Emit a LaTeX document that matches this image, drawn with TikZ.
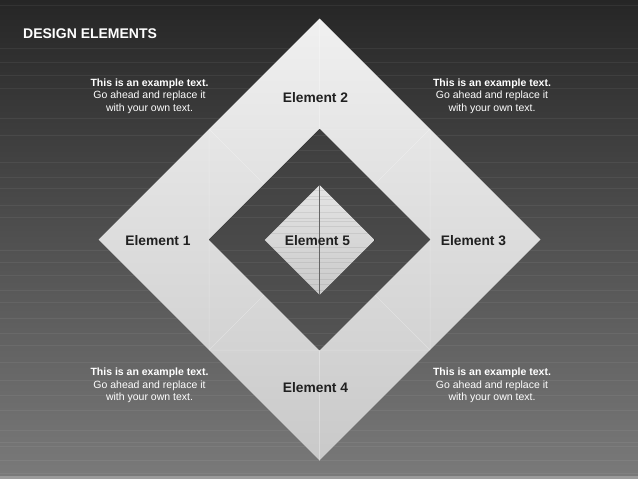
\documentclass[tikz,border=0pt]{standalone}
\usepackage{fontspec}
\setmainfont{Liberation Sans}
\usetikzlibrary{calc}
\definecolor{bgtop}{HTML}{262626}
\definecolor{bgbot}{HTML}{7A7A7A}
\definecolor{bandtop}{HTML}{F0F0F0}
\definecolor{bandbot}{HTML}{C9C9C9}
\definecolor{holetop}{HTML}{3E3E3E}
\definecolor{holebot}{HTML}{545454}
\definecolor{cortop}{HTML}{E4E4E4}
\definecolor{corbot}{HTML}{CACACA}
\definecolor{labelc}{HTML}{202020}
\tikzset{
  elabel/.style={font=\fontsize{13.8}{16}\selectfont\bfseries, text=labelc, inner sep=0pt},
  extext/.style={font=\fontsize{10.5}{12.6}\selectfont, text=white, align=center, inner sep=0pt},
  facet/.style={draw=white, line width=0.5pt, opacity=0.3},
  texture/.style={draw=white, line width=0.6pt, opacity=0.06}
}
\begin{document}
\begin{tikzpicture}[x=1pt,y=-1pt]
\useasboundingbox (0,0) rectangle (638,479);
% background
\fill[top color=bgtop, bottom color=bgbot] (0,0) rectangle (638,479);
\fill[white, opacity=0.25] (0,476) rectangle (638,479);
\foreach \yy in {5,48,62,75,88,118,135,162,177,188,205,217,250,262,275,290,302,318,333,345,362,380,395,410,430,442,446,460,473}
  \draw[texture] (0,\yy) -- (638,\yy);
% coordinates
\coordinate (c) at (319.5,239.5);
\coordinate (oT) at (319.5,18.5);
\coordinate (oL) at (98.5,239.5);
\coordinate (oR) at (540.5,239.5);
\coordinate (oB) at (319.5,460.5);
\coordinate (hT) at (319.5,129);
\coordinate (hL) at (209,239.5);
\coordinate (hR) at (430,239.5);
\coordinate (hB) at (319.5,350);
\coordinate (mUL) at (209,129);
\coordinate (mUR) at (430,129);
\coordinate (mLL) at (209,350);
\coordinate (mLR) at (430,350);
% outer band
\fill[top color=bandtop, bottom color=bandbot] (oT) -- (oR) -- (oB) -- (oL) -- cycle;
% facets
\path[facet] (oT) -- (hT) (oB) -- (hB);
\path[facet] (mUL) -- (hT) (mUL) -- (hL) (mUL) -- ($(hT)!0.5!(hL)$);
\path[facet] (mUR) -- (hT) (mUR) -- (hR) (mUR) -- ($(hT)!0.5!(hR)$);
\path[facet] (mLL) -- (hB) (mLL) -- (hL) (mLL) -- ($(hB)!0.5!(hL)$);
\path[facet] (mLR) -- (hB) (mLR) -- (hR) (mLR) -- ($(hB)!0.5!(hR)$);
% hole
\fill[top color=holetop, bottom color=holebot] (hT) -- (hR) -- (hB) -- (hL) -- cycle;
\begin{scope}
\clip (hT) -- (hR) -- (hB) -- (hL) -- cycle;
\foreach \yy in {135,150,162,177,188,205,217,250,262,275,290,302,318,333,345}
  \draw[texture] (200,\yy) -- (440,\yy);
\end{scope}
% core diamond
\coordinate (iT) at (319.5,185);
\coordinate (iL) at (264.5,240);
\coordinate (iR) at (374.5,240);
\coordinate (iB) at (319.5,295);
\fill[top color=cortop, bottom color=corbot] (iT) -- (iR) -- (iB) -- (iL) -- cycle;
\begin{scope}
\clip (iT) -- (iR) -- (iB) -- (iL) -- cycle;
\foreach \yy in {190,196,199,205,212,218,221,226,233,247,252,258,262,268,273,279,284,290}
  \draw[black, opacity=0.07, line width=0.5pt] (260,\yy) -- (380,\yy);
\end{scope}
\draw[gray!80!black, line width=0.5pt] (iT) -- (iB);
% title
\node[anchor=west, font=\fontsize{14}{16}\selectfont\bfseries, text=white, inner sep=0pt] (title) at (23,34) {DESIGN ELEMENTS};
% element labels
\node[elabel] (e2) at (315.5,98) {Element 2};
\node[elabel] (e1) at (158,240.5) {Element 1};
\node[elabel] (e3) at (473.5,240.5) {Element 3};
\node[elabel] (e4) at (315.5,387.5) {Element 4};
\node[elabel] (e5) at (317.5,240.5) {Element 5};
% example texts
\node[extext] (t1) at (149.5,96) {\textbf{This is an example text.}\\Go ahead and replace it\\with your own text.};
\node[extext] (t2) at (492,96) {\textbf{This is an example text.}\\Go ahead and replace it\\with your own text.};
\node[extext] (t3) at (149.5,385.5) {\textbf{This is an example text.}\\Go ahead and replace it\\with your own text.};
\node[extext] (t4) at (492,385.5) {\textbf{This is an example text.}\\Go ahead and replace it\\with your own text.};
\end{tikzpicture}
\end{document}
